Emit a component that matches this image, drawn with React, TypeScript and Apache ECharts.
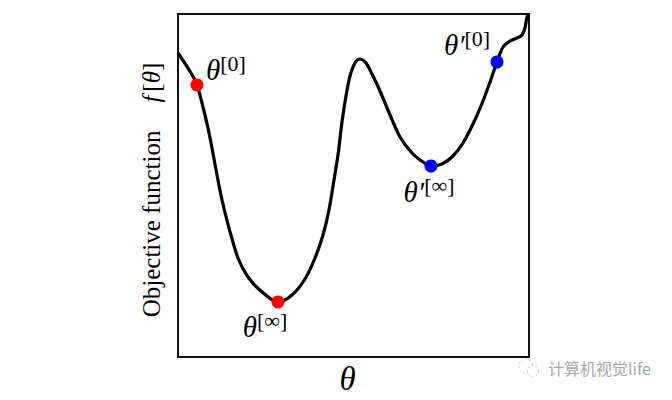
import React, { useEffect, useRef } from "react";
import * as echarts from "echarts";

// Curve samples (theta, objective value) in plot units
const curveX = [0, 13, 19, 25, 30, 34, 39, 44, 51, 60, 70, 84, 100, 114, 127, 137, 145, 151, 156, 160, 164, 168, 172, 177, 182, 188, 194, 202, 212, 222, 234, 245, 253, 264, 275, 285, 294, 303, 311, 319, 325, 332, 339, 344, 347, 349, 351];
const curveY = [304, 284, 272, 250, 229, 209, 182, 157, 129, 99, 80, 65, 55, 62, 78, 99, 122, 147, 177, 202, 235, 261, 281, 294, 298, 294, 283, 266, 242, 220, 204, 195, 191, 193, 201, 214, 231, 251, 272, 295, 310, 316, 319, 322, 329, 340, 343];

// Marked points
const redPoints = [[19, 272], [100, 55]];
const bluePoints = [[253, 191], [319, 295]];
const redLabels = ["{t|θ}{s|[0]}", "{t|θ}{s|[∞]}"];
const blueLabels = ["{t|θ′}{s|[∞]}", "{t|θ′}{s|[0]}"];
const redOffsets = [[29, -17], [-13, 23]];
const blueOffsets = [[-2, 24], [-30, -19]];

const serif = "'Liberation Serif', 'Times New Roman', serif";

const rich = {
  t: { fontFamily: serif, fontStyle: "italic", fontSize: 29, lineHeight: 32, color: "#000", verticalAlign: "bottom" },
  s: { fontFamily: serif, fontSize: 22, lineHeight: 22, color: "#000", verticalAlign: "top" },
};

export default function App() {
  const ref = useRef<HTMLDivElement>(null);
  useEffect(() => {
    if (!ref.current) return;
    const chart = echarts.init(ref.current, null, { renderer: "svg" });
    const mk = (pts: number[][], labels: string[], offs: number[][], color: string) =>
      pts.map((p, i) => ({
        value: p,
        label: {
          show: true,
          position: "inside",
          offset: offs[i],
          formatter: labels[i],
          rich,
        },
        itemStyle: { color, opacity: 1 },
      }));
    chart.setOption({
      animation: false,
      backgroundColor: "#fff",
      grid: {
        left: 170,
        top: 6,
        width: 351,
        height: 343,
        show: true,
        borderColor: "#111",
        borderWidth: 2,
        backgroundColor: "transparent",
      },
      xAxis: {
        type: "value",
        min: 0,
        max: 351,
        axisLine: { show: false },
        axisTick: { show: false },
        axisLabel: { show: false },
        splitLine: { show: false },
        name: "θ",
        nameLocation: "middle",
        nameGap: 7,
        nameTextStyle: { fontFamily: serif, fontStyle: "italic", fontSize: 33, lineHeight: 30, color: "#000", padding: [0, 12, 0, 0] },
      },
      yAxis: {
        type: "value",
        min: 0,
        max: 343,
        axisLine: { show: false },
        axisTick: { show: false },
        axisLabel: { show: false },
        splitLine: { show: false },
        name: "{a|Objective function}{g| }{i|f}{h| }{a|[}{i|θ}{a|]}",
        nameLocation: "middle",
        nameRotate: 90,
        nameGap: 14,
        nameTextStyle: {
          padding: [0, 9, 0, 0],
          rich: {
            a: { fontFamily: serif, fontSize: 25, color: "#000" },
            g: { fontFamily: serif, fontSize: 25, width: 28 },
            h: { fontFamily: serif, fontSize: 25, width: 4 },
            i: { fontFamily: serif, fontSize: 25, fontStyle: "italic", color: "#000" },
          },
        },
      },
      series: [
        {
          type: "line",
          data: curveX.map((x, i) => [x, curveY[i]]),
          smooth: 0.3,
          symbol: "none",
          lineStyle: { color: "#000", width: 3.2 },
          z: 2,
        },
        {
          type: "scatter",
          symbolSize: 13,
          data: mk(redPoints, redLabels, redOffsets, "#ff0000"),
          z: 3,
        },
        {
          type: "scatter",
          symbolSize: 13,
          data: mk(bluePoints, blueLabels, blueOffsets, "#0000ff"),
          z: 3,
        },
      ],
      graphic: [
        {
          type: "circle",
          shape: { cx: 518, cy: 358, r: 7 },
          style: { fill: "none", stroke: "#c8c8c8", lineWidth: 1, lineDash: [2, 2] },
        },
        {
          type: "circle",
          shape: { cx: 525, cy: 363, r: 5.5 },
          style: { fill: "#fff", stroke: "#c8c8c8", lineWidth: 1, lineDash: [2, 2] },
        },
        {
          type: "text",
          x: 540,
          y: 360,
          style: {
            text: "计算机视觉life",
            fontFamily: "'Noto Sans CJK SC', sans-serif",
            fontSize: 16,
            fill: "#a8a8a8",
            verticalAlign: "middle",
            align: "left",
          },
        },
      ],
    });
    return () => chart.dispose();
  }, []);
  return <div ref={ref} style={{ width: 672, height: 400 }} />;
}
